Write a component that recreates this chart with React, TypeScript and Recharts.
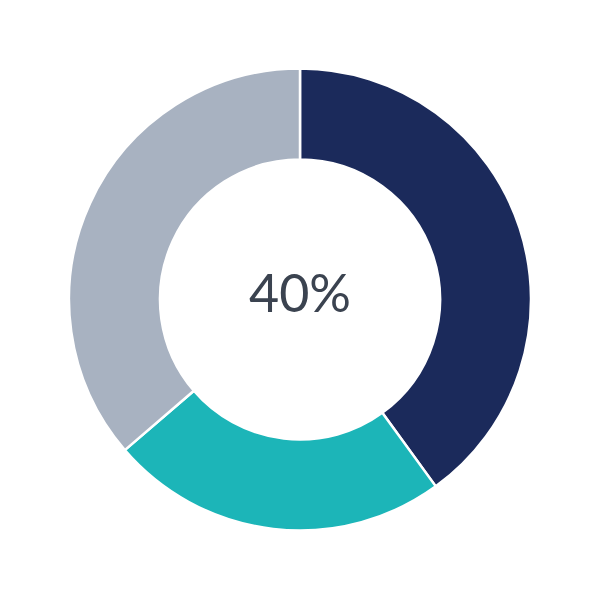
import { PieChart, Pie, Cell, Label } from "recharts";

const segments = ["Primary", "Secondary", "Other"];
const values = [40, 23.7, 36.3];
const colors = ["#1b2a5b", "#1cb5b8", "#a8b2c1"];
const centerLabel = "40%";

const data = segments.map((name, i) => ({ name, value: values[i] }));

const App = () => {
  return (
    <div style={{ position: "absolute", left: 0, top: 0 }}>
      <PieChart
        width={600}
        height={599}
        margin={{ top: 0, right: 0, bottom: 0, left: 0 }}
      >
        <Pie
          data={data}
          dataKey="value"
          cx={300}
          cy={299.5}
          innerRadius={140}
          outerRadius={231}
          startAngle={90}
          endAngle={-270}
          stroke="#ffffff"
          strokeWidth={2.5}
          isAnimationActive={false}
        >
          {data.map((d, i) => (
            <Cell key={d.name} fill={colors[i]} />
          ))}
          <Label
            value={centerLabel}
            position="center"
            dy={-6}
            fill="#3b4350"
            style={{ fontFamily: "Lato", fontSize: 52, fontWeight: 400 }}
          />
        </Pie>
      </PieChart>
    </div>
  );
};

export default App;
